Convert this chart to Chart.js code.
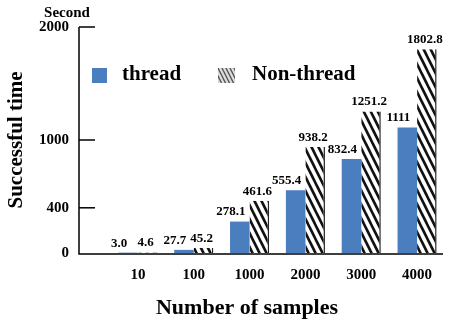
<!DOCTYPE html>
<html>
<head>
<meta charset="utf-8">
<script src="https://cdn.jsdelivr.net/npm/chart.js@4.4.0/dist/chart.umd.min.js"></script>
<style>html,body{margin:0;padding:0;background:#fff}</style>
</head>
<body>
<canvas id="chart" width="474" height="323"></canvas>
<script>
const categories = ['10', '100', '1000', '2000', '3000', '4000'];
const threadTimes = [3.0, 27.7, 278.1, 555.4, 832.4, 1111];
const nonThreadTimes = [4.6, 45.2, 461.6, 938.2, 1251.2, 1802.8];
const yTicks = [0, 400, 1000, 2000];

const SERIF = "'Liberation Serif', 'Times New Roman', serif";

// diagonal "\\\" hatching for the non-thread bars
function stripes(size, ink, lw, bg) {
  const c = document.createElement('canvas');
  c.width = size; c.height = size * 2;
  const g = c.getContext('2d');
  g.fillStyle = bg;
  g.fillRect(0, 0, c.width, c.height);
  g.strokeStyle = ink;
  g.lineWidth = lw;
  for (const x0 of [-size, 0, size]) {
    g.beginPath();
    g.moveTo(x0 - 1, -2);
    g.lineTo(x0 + size + 1, size * 2 + 2);
    g.stroke();
  }
  return g.createPattern(c, 'repeat');
}

function fmt(v) {
  return Number.isInteger(v) && v >= 1000 ? String(v) : v.toFixed(1);
}

const decor = {
  id: 'decor',
  afterDatasetsDraw(chart) {
    const { ctx, chartArea: a, scales: { y } } = chart;
    const axisX = a.left - 31;
    ctx.save();

    // axes
    ctx.strokeStyle = '#000';
    ctx.lineWidth = 1.5;
    ctx.beginPath();
    ctx.moveTo(axisX, y.getPixelForValue(yTicks[yTicks.length - 1]));
    ctx.lineTo(axisX, a.bottom + 1);
    ctx.lineTo(a.right - 2, a.bottom + 1);
    ctx.stroke();
    yTicks.filter(v => v > 0).forEach(v => {
      const py = y.getPixelForValue(v);
      ctx.beginPath();
      ctx.moveTo(axisX, py);
      ctx.lineTo(axisX + 16, py);
      ctx.stroke();
    });

    // value labels (thread labels sit a little to the left, as in the source)
    ctx.fillStyle = '#000';
    ctx.font = 'bold 13px ' + SERIF;
    ctx.textAlign = 'center';
    ctx.textBaseline = 'bottom';
    const shift = [-9, -2];
    chart.data.datasets.forEach((ds, di) => {
      chart.getDatasetMeta(di).data.forEach((bar, i) => {
        ctx.fillText(fmt(ds.data[i]), bar.x + shift[di], bar.y - 3);
      });
    });

    // unit label
    ctx.font = 'bold 15px ' + SERIF;
    ctx.textBaseline = 'middle';
    ctx.fillText('Second', 67, 13);

    // x title
    ctx.font = 'bold 22px ' + SERIF;
    ctx.fillText('Number of samples', 247, 308);

    // legend
    ctx.fillStyle = '#4a7ebf';
    ctx.fillRect(92, 68, 15, 15);
    ctx.fillStyle = stripes(4, '#555', 1.4, '#ddd');
    ctx.fillRect(218, 68, 17, 15);
    ctx.fillStyle = '#000';
    ctx.font = 'bold 21px ' + SERIF;
    ctx.textAlign = 'left';
    ctx.fillText('thread', 122, 75);
    ctx.fillText('Non-thread', 252, 75);
    ctx.restore();
  }
};

new Chart(document.getElementById('chart'), {
  type: 'bar',
  data: {
    labels: categories,
    datasets: [
      {
        label: 'thread',
        data: threadTimes,
        backgroundColor: '#4a7ebf',
        categoryPercentage: 0.7,
        barPercentage: 1
      },
      {
        label: 'Non-thread',
        data: nonThreadTimes,
        backgroundColor: stripes(7, '#111', 2.6, '#fff'),
        borderColor: '#222',
        borderWidth: { left: 0, right: 1.5, top: 0, bottom: 0 },
        categoryPercentage: 0.7,
        barPercentage: 1
      }
    ]
  },
  options: {
    responsive: false,
    animation: false,
    layout: { padding: { top: 27, right: 29, left: 0, bottom: 0 } },
    plugins: {
      legend: { display: false },
      tooltip: { enabled: false }
    },
    scales: {
      x: {
        grid: { display: false },
        border: { display: false },
        ticks: { color: '#000', font: { family: SERIF, size: 15, weight: 'bold' }, padding: 5 },
        afterFit: s => { s.height = 70; }
      },
      y: {
        min: 0,
        max: 2000,
        grid: { display: false },
        border: { display: false },
        afterBuildTicks: s => { s.ticks = yTicks.map(v => ({ value: v })); },
        ticks: {
          color: '#000',
          font: { family: SERIF, size: 15, weight: 'bold' },
          padding: 33,
          callback: v => String(v)
        },
        title: {
          display: true,
          text: 'Successful time',
          color: '#000',
          font: { family: SERIF, size: 21, weight: 'bold' },
          padding: { top: 4, bottom: 0 }
        },
        afterFit: s => {
          s.width = 110;
          s.paddingTop = 9;
          s.paddingBottom = 9;
        }
      }
    }
  },
  plugins: [decor]
});
</script>
</body>
</html>
